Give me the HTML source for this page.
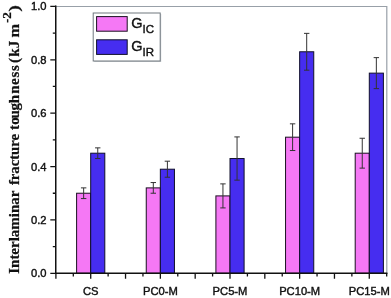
<!DOCTYPE html>
<html><head><meta charset="utf-8"><title>Interlaminar fracture toughness</title>
<style>
html,body{margin:0;padding:0;background:#fff;}
body{width:391px;height:298px;overflow:hidden;}
svg{display:block;filter:blur(0.35px);}
.t{font-family:"Liberation Sans",Arial,sans-serif;font-size:11.2px;fill:#111;stroke:#111;stroke-width:0.4px;}
.lg{font-family:"Liberation Sans",Arial,sans-serif;font-size:14.5px;fill:#111;stroke:#111;stroke-width:0.4px;}
.sub{font-size:11.5px;}
.yt{font-family:"Liberation Serif","Times New Roman",serif;font-weight:bold;font-size:15px;fill:#111;stroke:#111;stroke-width:0.25px;}
.sup{font-size:11.5px;}
</style></head><body>
<svg width="391" height="298" viewBox="0 0 391 298">
<rect width="391" height="298" fill="#fff"/>
<path d="M55.7 6.5H386.8V273.3" fill="none" stroke="#98a0a8" stroke-width="1.2"/>
<rect x="76.60" y="193.23" width="14.10" height="80.07" fill="#f578f5" stroke="#1a1020" stroke-width="1"/>
<rect x="90.70" y="153.20" width="14.10" height="120.10" fill="#462df0" stroke="#10102a" stroke-width="1"/>
<path d="M83.65 187.89V198.57M80.95 187.89h5.4M80.95 198.57h5.4" fill="none" stroke="#333" stroke-width="1"/>
<path d="M97.75 147.86V158.53M95.05 147.86h5.4M95.05 158.53h5.4" fill="none" stroke="#333" stroke-width="1"/>
<rect x="146.25" y="187.89" width="14.10" height="85.41" fill="#f578f5" stroke="#1a1020" stroke-width="1"/>
<rect x="160.35" y="169.21" width="14.10" height="104.09" fill="#462df0" stroke="#10102a" stroke-width="1"/>
<path d="M153.30 182.55V193.23M150.60 182.55h5.4M150.60 193.23h5.4" fill="none" stroke="#333" stroke-width="1"/>
<path d="M167.40 161.20V177.22M164.70 161.20h5.4M164.70 177.22h5.4" fill="none" stroke="#333" stroke-width="1"/>
<rect x="215.90" y="195.90" width="14.10" height="77.40" fill="#f578f5" stroke="#1a1020" stroke-width="1"/>
<rect x="230.00" y="158.53" width="14.10" height="114.77" fill="#462df0" stroke="#10102a" stroke-width="1"/>
<path d="M222.95 183.89V207.91M220.25 183.89h5.4M220.25 207.91h5.4" fill="none" stroke="#333" stroke-width="1"/>
<path d="M237.05 136.91V180.15M234.35 136.91h5.4M234.35 180.15h5.4" fill="none" stroke="#333" stroke-width="1"/>
<rect x="285.55" y="137.18" width="14.10" height="136.12" fill="#f578f5" stroke="#1a1020" stroke-width="1"/>
<rect x="299.65" y="51.77" width="14.10" height="221.53" fill="#462df0" stroke="#10102a" stroke-width="1"/>
<path d="M292.60 123.84V150.53M289.90 123.84h5.4M289.90 150.53h5.4" fill="none" stroke="#333" stroke-width="1"/>
<path d="M306.70 33.36V70.19M304.00 33.36h5.4M304.00 70.19h5.4" fill="none" stroke="#333" stroke-width="1"/>
<rect x="355.20" y="153.20" width="14.10" height="120.10" fill="#f578f5" stroke="#1a1020" stroke-width="1"/>
<rect x="369.30" y="73.13" width="14.10" height="200.17" fill="#462df0" stroke="#10102a" stroke-width="1"/>
<path d="M362.25 138.25V168.14M359.55 138.25h5.4M359.55 168.14h5.4" fill="none" stroke="#333" stroke-width="1"/>
<path d="M376.35 57.64V88.61M373.65 57.64h5.4M373.65 88.61h5.4" fill="none" stroke="#333" stroke-width="1"/>
<path d="M55.75 5.6V273.3" stroke="#111" stroke-width="1.5" fill="none"/>
<path d="M55 273.3H387.4" stroke="#111" stroke-width="1.4" fill="none"/>
<path d="M50.3 273.30H56M52.8 246.61H56M50.3 219.92H56M52.8 193.23H56M50.3 166.54H56M52.8 139.85H56M50.3 113.16H56M52.8 86.47H56M50.3 59.78H56M52.8 33.09H56M50.3 6.40H56" stroke="#111" stroke-width="1.3" fill="none"/>
<path d="M55.90 273V278.8M73.31 273V276.6M90.72 273V278.8M108.13 273V276.6M125.54 273V278.8M142.95 273V276.6M160.36 273V278.8M177.77 273V276.6M195.18 273V278.8M212.59 273V276.6M230.00 273V278.8M247.41 273V276.6M264.82 273V278.8M282.23 273V276.6M299.64 273V278.8M317.05 273V276.6M334.46 273V278.8M351.87 273V276.6M369.28 273V278.8M386.69 273V276.6" stroke="#111" stroke-width="1.3" fill="none"/>
<text x="46.6" y="277.30" text-anchor="end" class="t">0.0</text>
<text x="46.6" y="223.92" text-anchor="end" class="t">0.2</text>
<text x="46.6" y="170.54" text-anchor="end" class="t">0.4</text>
<text x="46.6" y="117.16" text-anchor="end" class="t">0.6</text>
<text x="46.6" y="63.78" text-anchor="end" class="t">0.8</text>
<text x="46.6" y="10.40" text-anchor="end" class="t">1.0</text>
<text x="90.70" y="295.2" text-anchor="middle" class="t">CS</text>
<text x="160.35" y="295.2" text-anchor="middle" class="t">PC0-M</text>
<text x="230.00" y="295.2" text-anchor="middle" class="t">PC5-M</text>
<text x="299.65" y="295.2" text-anchor="middle" class="t">PC10-M</text>
<text x="369.30" y="295.2" text-anchor="middle" class="t">PC15-M</text>
<rect x="94.2" y="14" width="67" height="48" fill="#c8ccd0"/>
<rect x="93.2" y="13" width="67" height="48" fill="#fff" stroke="#70787f" stroke-width="1"/>
<rect x="96.6" y="16.6" width="30.6" height="14.6" fill="#f578f5" stroke="#1a1020" stroke-width="1"/>
<rect x="96.6" y="39.8" width="30.6" height="14.6" fill="#462df0" stroke="#10102a" stroke-width="1"/>
<text x="131.2" y="27.8" class="lg">G<tspan class="sub" dy="4.9">IC</tspan></text>
<text x="131.2" y="51.0" class="lg">G<tspan class="sub" dy="4.9">IR</tspan></text>
<text transform="translate(18.5 273.8) rotate(-90)" class="yt">Interlaminar</text>
<text transform="translate(18.5 185.1) rotate(-90)" class="yt" textLength="51.2" lengthAdjust="spacingAndGlyphs">fracture</text>
<text transform="translate(18.5 130.0) rotate(-90)" class="yt" x="0 5.3 11.6 19.5 26.7 36.2 45.0 52.6 59.0">toughness</text>
<text transform="translate(18.5 62.9) rotate(-90)" class="yt">(</text>
<text transform="translate(18.5 56.7) rotate(-90)" class="yt">kJ</text>
<text transform="translate(18.5 37.5) rotate(-90)" class="yt" textLength="13.6" lengthAdjust="spacingAndGlyphs">m</text>
<text transform="translate(10.9 22.8) rotate(-90)" class="yt sup">-</text>
<text transform="translate(10.9 18.75) rotate(-90)" class="yt sup" textLength="6.6" lengthAdjust="spacingAndGlyphs">2</text>
<text transform="translate(18.5 11.8) rotate(-90)" class="yt" textLength="6.75" lengthAdjust="spacingAndGlyphs">)</text>
</svg>
</body></html>
